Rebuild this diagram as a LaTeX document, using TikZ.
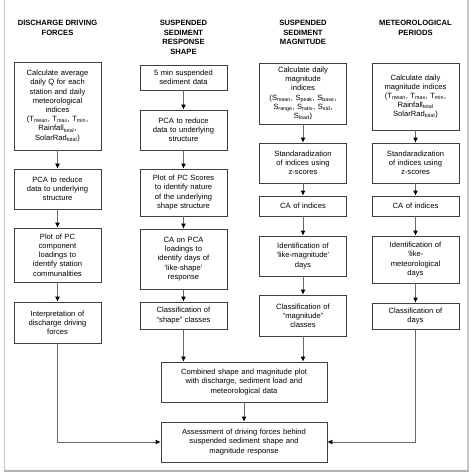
\documentclass[tikz,border=0pt]{standalone}
\usepackage{fontspec}
\setmainfont{Liberation Sans}
\usetikzlibrary{arrows.meta}

\begin{document}
\begin{tikzpicture}[x=1pt, y=-1pt, font=\fontsize{7.6}{9.2}\selectfont,
  box/.style={draw=black!75, line width=0.8pt, align=center, inner sep=2pt, text width=83pt},
  widebox/.style={box, text width=162pt},
  head/.style={font=\fontsize{7.6}{9.6}\selectfont\bfseries, align=center, anchor=north, inner sep=0pt},
  arr/.style={draw=black!60, line width=0.8pt, -{Latex[length=5pt, width=5pt, color=black]}}]
\useasboundingbox (0,0) rectangle (474,474);
% frame
\draw[gray!45, line width=1.5pt] (4.5,0) -- (4.5,470);
\draw[gray!45, line width=1.5pt] (468,0) -- (468,470);
\draw[gray!60, line width=2.5pt] (4,471) -- (469,471);
% headers
\node[head] (h1) at (57.5,20) {DISCHARGE DRIVING\\FORCES};
\node[head] (h2) at (183.5,20) {SUSPENDED\\SEDIMENT\\RESPONSE\\SHAPE};
\node[head] (h3) at (303,20) {SUSPENDED\\SEDIMENT\\MAGNITUDE};
\node[head] (h4) at (415.5,20) {METEOROLOGICAL\\PERIODS};
% discharge driving forces
\node[box, minimum height=88] (c1a) at (57.5,106) {Calculate average\\daily Q for each\\station and daily\\meteorological\\indices\\(T\textsubscript{mean}, T\textsubscript{max}, T\textsubscript{min},\\Rainfall\textsubscript{total},\\SolarRad\textsubscript{total})};
\node[box, minimum height=40] (c1b) at (57.5,189) {PCA to reduce\\data to underlying\\structure};
\node[box, minimum height=54] (c1c) at (57.5,255) {Plot of PC\\component\\loadings to\\identify station\\communalities};
\node[box, minimum height=41] (c1d) at (57.5,322.5) {Interpretation of\\discharge driving\\forces};
% response shape
\node[box, minimum height=25] (c2a) at (183.5,77.5) {5 min suspended\\sediment data};
\node[box, minimum height=40] (c2b) at (183.5,130) {PCA to reduce\\data to underlying\\structure};
\node[box, minimum height=47] (c2c) at (183.5,192.5) {Plot of PC Scores\\to identify nature\\of the underlying\\shape structure};
\node[box, minimum height=60] (c2d) at (183.5,259) {CA on PCA\\loadings to\\identify days of\\`like-shape'\\response};
\node[box, minimum height=27] (c2e) at (183.5,315.5) {Classification of\\``shape'' classes};
% magnitude
\node[box, minimum height=61] (c3a) at (303,93.5) {Calculate daily\\magnitude\\indices\\(S\textsubscript{mean}, S\textsubscript{peak}, S\textsubscript{base},\\S\textsubscript{range}, S\textsubscript{ratio}, S\textsubscript{std},\\S\textsubscript{load})};
\node[box, minimum height=40] (c3b) at (303,163) {Standaradization\\of indices using\\z-scores};
\node[box, minimum height=20] (c3c) at (303,206) {CA of indices};
\node[box, minimum height=40] (c3d) at (303,256) {Identification of\\`like-magnitude'\\days};
\node[box, minimum height=41] (c3e) at (303,315.5) {Classification of\\``magnitude''\\classes};
% meteorological periods
\node[box, minimum height=67] (c4a) at (415.5,96.5) {Calculate daily\\magnitude indices\\(T\textsubscript{mean}, T\textsubscript{max}, T\textsubscript{min},\\Rainfall\textsubscript{total}\\SolarRad\textsubscript{total})\\[6pt]};
\node[box, minimum height=40] (c4b) at (415.5,163) {Standaradization\\of indices using\\z-scores};
\node[box, minimum height=20] (c4c) at (415.5,206) {CA of indices};
\node[box, minimum height=47] (c4d) at (415.5,259.5) {Identification of\\`like-\\meteorological\\days};
\node[box, minimum height=26] (c4e) at (415.5,316) {Classification of\\days};
% combined results
\node[widebox, minimum height=40] (comb) at (244,382) {Combined shape and magnitude plot\\with discharge, sediment load and\\meteorological data};
\node[widebox, minimum height=40] (asmt) at (244,442) {Assessment of driving forces behind\\suspended sediment shape and\\magnitude response};
% column arrows
\foreach \a/\b in {c1a/c1b, c1b/c1c, c1c/c1d, c2a/c2b, c2b/c2c, c2c/c2d, c2d/c2e,
  c3a/c3b, c3b/c3c, c3c/c3d, c3d/c3e, c4a/c4b, c4b/c4c, c4c/c4d, c4d/c4e}
  \draw[arr] (\a) -- (\b);
\draw[arr] (c2e.south) -- (c2e.south |- comb.north);
\draw[arr] (c3e.south) -- (c3e.south |- comb.north);
\draw[arr] (comb) -- (asmt);
\draw[arr] (c1d.south) |- (asmt.west);
\draw[arr] (c4e.south) |- (asmt.east);
\end{tikzpicture}
\end{document}
